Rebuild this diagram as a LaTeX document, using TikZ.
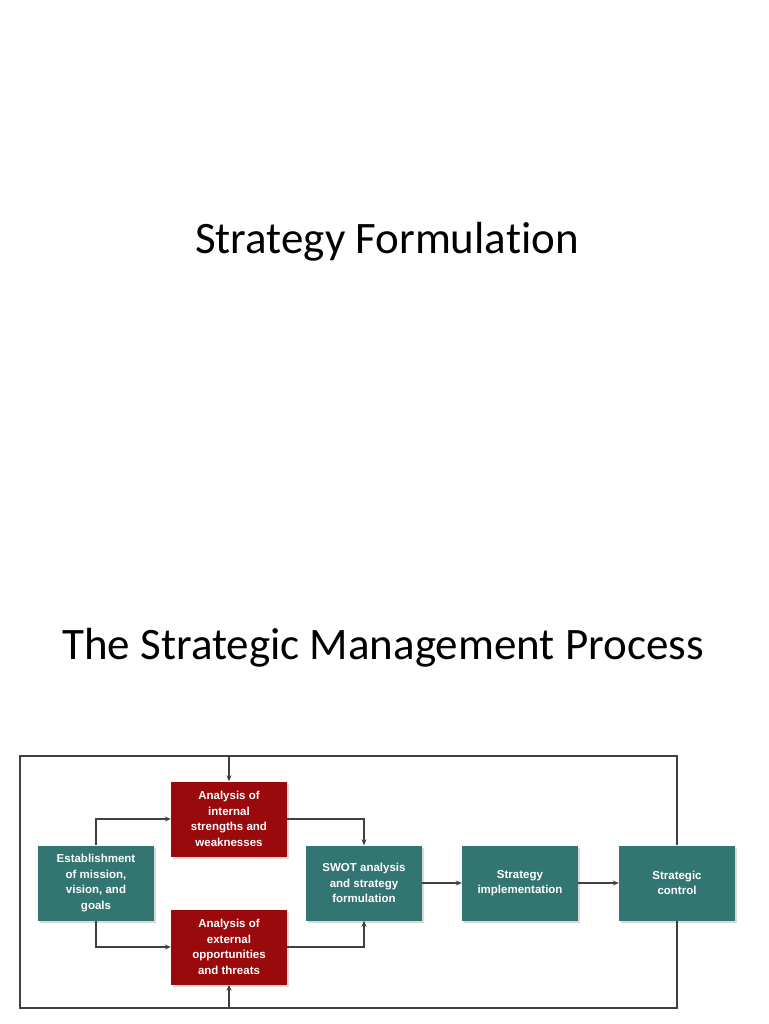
\documentclass[tikz,border=0pt]{standalone}
\usepackage{fontspec}
\setmainfont[Ligatures=NoCommon]{Carlito}
\newfontfamily\boxfont{Liberation Sans}
\usetikzlibrary{arrows.meta,shadows}
\definecolor{teal1}{HTML}{337573}
\definecolor{red1}{HTML}{9A0A0C}
\definecolor{line1}{HTML}{404040}
\begin{document}
\begin{tikzpicture}[x=1pt,y=-1pt,
  bx/.style={minimum width=116pt,minimum height=75pt,inner sep=2pt,align=center,text=white,font=\boxfont\bfseries\fontsize{11.5}{15.5}\selectfont,drop shadow={shadow xshift=2pt,shadow yshift=-2pt,opacity=0.3}},
  tl/.style={bx,fill=teal1},
  rd/.style={bx,fill=red1},
  ln/.style={draw=line1,line width=1.6pt},
  ar/.style={ln,-{Stealth[length=6pt,width=5pt]}}]
\useasboundingbox (0,0) rectangle (768,1024);
\node (t1) at (387,242) {\fontsize{45}{50}\selectfont Strategy Formulation};
\node (t2) at (383,648) {\fontsize{45}{50}\selectfont The Strategic Management Process};
\node[tl] (est) at (96,883) {Establishment\\of mission,\\vision, and\\goals};
\node[rd] (int) at (229,819) {Analysis of\\internal\\strengths and\\weaknesses};
\node[rd] (ext) at (229,947) {Analysis of\\external\\opportunities\\and threats};
\node[tl] (swot) at (364,883) {SWOT analysis\\and strategy\\formulation};
\node[tl] (imp) at (520,883) {Strategy\\implementation};
\node[tl] (ctl) at (677,883) {Strategic\\control};
\coordinate (tp) at (229,756);
\coordinate (bt) at (229,1008);
\draw[ln] (ctl.north) -- (677,756) -- (20,756) -- (20,1008) -- (677,1008) -- (ctl.south);
\draw[ar] (tp) -- (int.north);
\draw[ar] (bt) -- (ext.south);
\draw[ar] (est.north) |- (int.west);
\draw[ar] (est.south) |- (ext.west);
\draw[ar] (int.east) -| (swot.north);
\draw[ar] (ext.east) -| (swot.south);
\draw[ar] (swot) -- (imp);
\draw[ar] (imp) -- (ctl);
\end{tikzpicture}
\end{document}
